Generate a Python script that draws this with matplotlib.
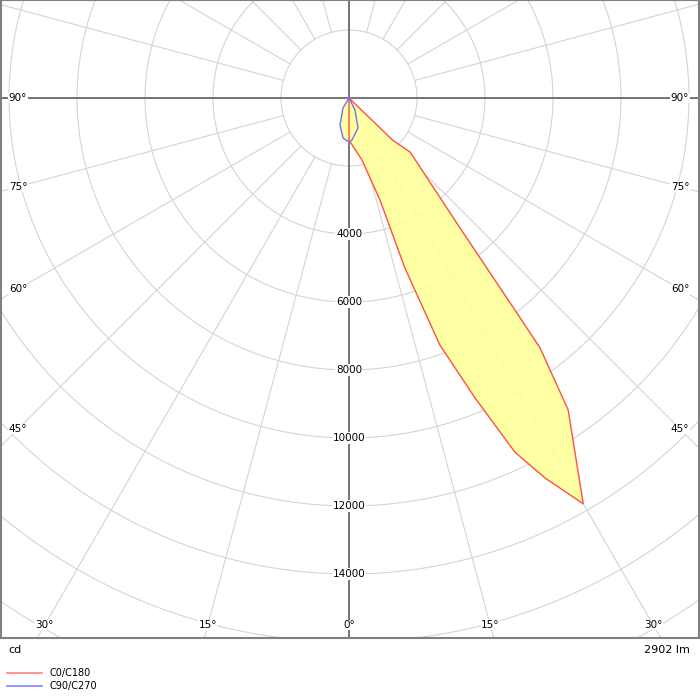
import numpy as np
import matplotlib.pyplot as plt

# C0/C180 curve, polygon order: gamma (deg, + = right side), intensity (cd)
c0_gamma = [0, 0, 11.8, 16.9, 18.2, 20.2, 22.8, 25.1, 27.3, 30, 35.1, 37.4, 37.9, 40.5, 48.5, 46, 90]
c0_cd = [0, 1240, 1860, 3140, 5260, 7740, 9570, 11500, 12580, 13780, 11210, 9250, 8200, 5030, 2400, 1790, 0]
# C90/C270 curve
c90_gamma = [90, 26.6, 16.7, 4.1, 0, -8.5, -18.4, -31, -90]
c90_cd = [0, 395, 920, 1240, 1294, 1190, 837, 343, 0]

ring_values = [4000, 6000, 8000, 10000, 12000, 14000]
angle_labels = [90, 75, 60, 45, 30, 15, 0]
flux_text = "2902 lm"

s = 1000 / 34.0  # cd per pixel
fig = plt.figure(figsize=(7, 7), dpi=100)
ax = fig.add_axes([0.0015, 62 / 700, 0.997, 638 / 700])
ax.set_xlim(-348 * s, 350 * s)
ax.set_ylim(-540 * s, 98 * s)
ax.set_aspect('auto')
ax.set_xticks([])
ax.set_yticks([])
for sp in ax.spines.values():
    sp.set_color('#808080')
    sp.set_linewidth(1.5)

t = np.linspace(0, 2 * np.pi, 400)
for r in range(2000, 32001, 2000):
    ax.plot(r * np.cos(t), r * np.sin(t), color='#d4d4d4', lw=0.8, zorder=1)
for a in range(0, 360, 15):
    th = np.radians(a)
    ax.plot([2000 * np.sin(th), 40000 * np.sin(th)], [-2000 * np.cos(th), -40000 * np.cos(th)],
            color='#d4d4d4', lw=0.8, zorder=1)
ax.axhline(0, color='#606060', lw=1.2, zorder=2)
ax.axvline(0, color='#606060', lw=1.2, zorder=2)


def polar_xy(g, c):
    g = np.radians(np.array(g, dtype=float))
    c = np.array(c, dtype=float)
    return c * np.sin(g), -c * np.cos(g)


x0, y0 = polar_xy(c0_gamma, c0_cd)
x9, y9 = polar_xy(c90_gamma, c90_cd)
ax.fill(x0, y0, color='#ffff99', alpha=0.9, zorder=3)
ax.fill(x9, y9, color='#ffff99', alpha=0.9, zorder=3)
ax.plot(x0, y0, color='#ff5050', lw=1, zorder=4)
ax.plot(x9, y9, color='#7070ff', lw=1, zorder=4)

for r in ring_values:
    ax.text(0, -r, str(r), ha='center', va='center', fontsize=7.5,
            bbox=dict(facecolor='white', edgecolor='none', pad=0.5), zorder=5)

side = 331 * s
bottom = 527 * s
for a in angle_labels:
    th = np.radians(a)
    for sign in ([-1, 1] if a else [1]):
        if a == 90 or side / np.sin(th) * np.cos(th) < bottom:
            x = side
            y = -side / np.tan(th) if a != 90 else 0
        else:
            y = -bottom
            x = bottom * np.tan(th)
        ax.text(sign * x, y, f"{a}°", ha='center', va='center', fontsize=7.5,
                bbox=dict(facecolor='white', edgecolor='none', pad=0.3), zorder=5)

fig.text(8 / 700, 1 - 650 / 700, "cd", fontsize=8, va='center')
fig.text(690 / 700, 1 - 650 / 700, flux_text, fontsize=8, va='center', ha='right')
fig.lines.append(plt.Line2D([7 / 700, 42 / 700], [1 - 673 / 700] * 2, color='#ff8080', lw=1.2, transform=fig.transFigure))
fig.lines.append(plt.Line2D([7 / 700, 42 / 700], [1 - 686 / 700] * 2, color='#8080ff', lw=1.2, transform=fig.transFigure))
fig.text(50 / 700, 1 - 673 / 700, "C0/C180", fontsize=7, va='center')
fig.text(50 / 700, 1 - 686 / 700, "C90/C270", fontsize=7, va='center')

fig.savefig('out.png', dpi=100)
